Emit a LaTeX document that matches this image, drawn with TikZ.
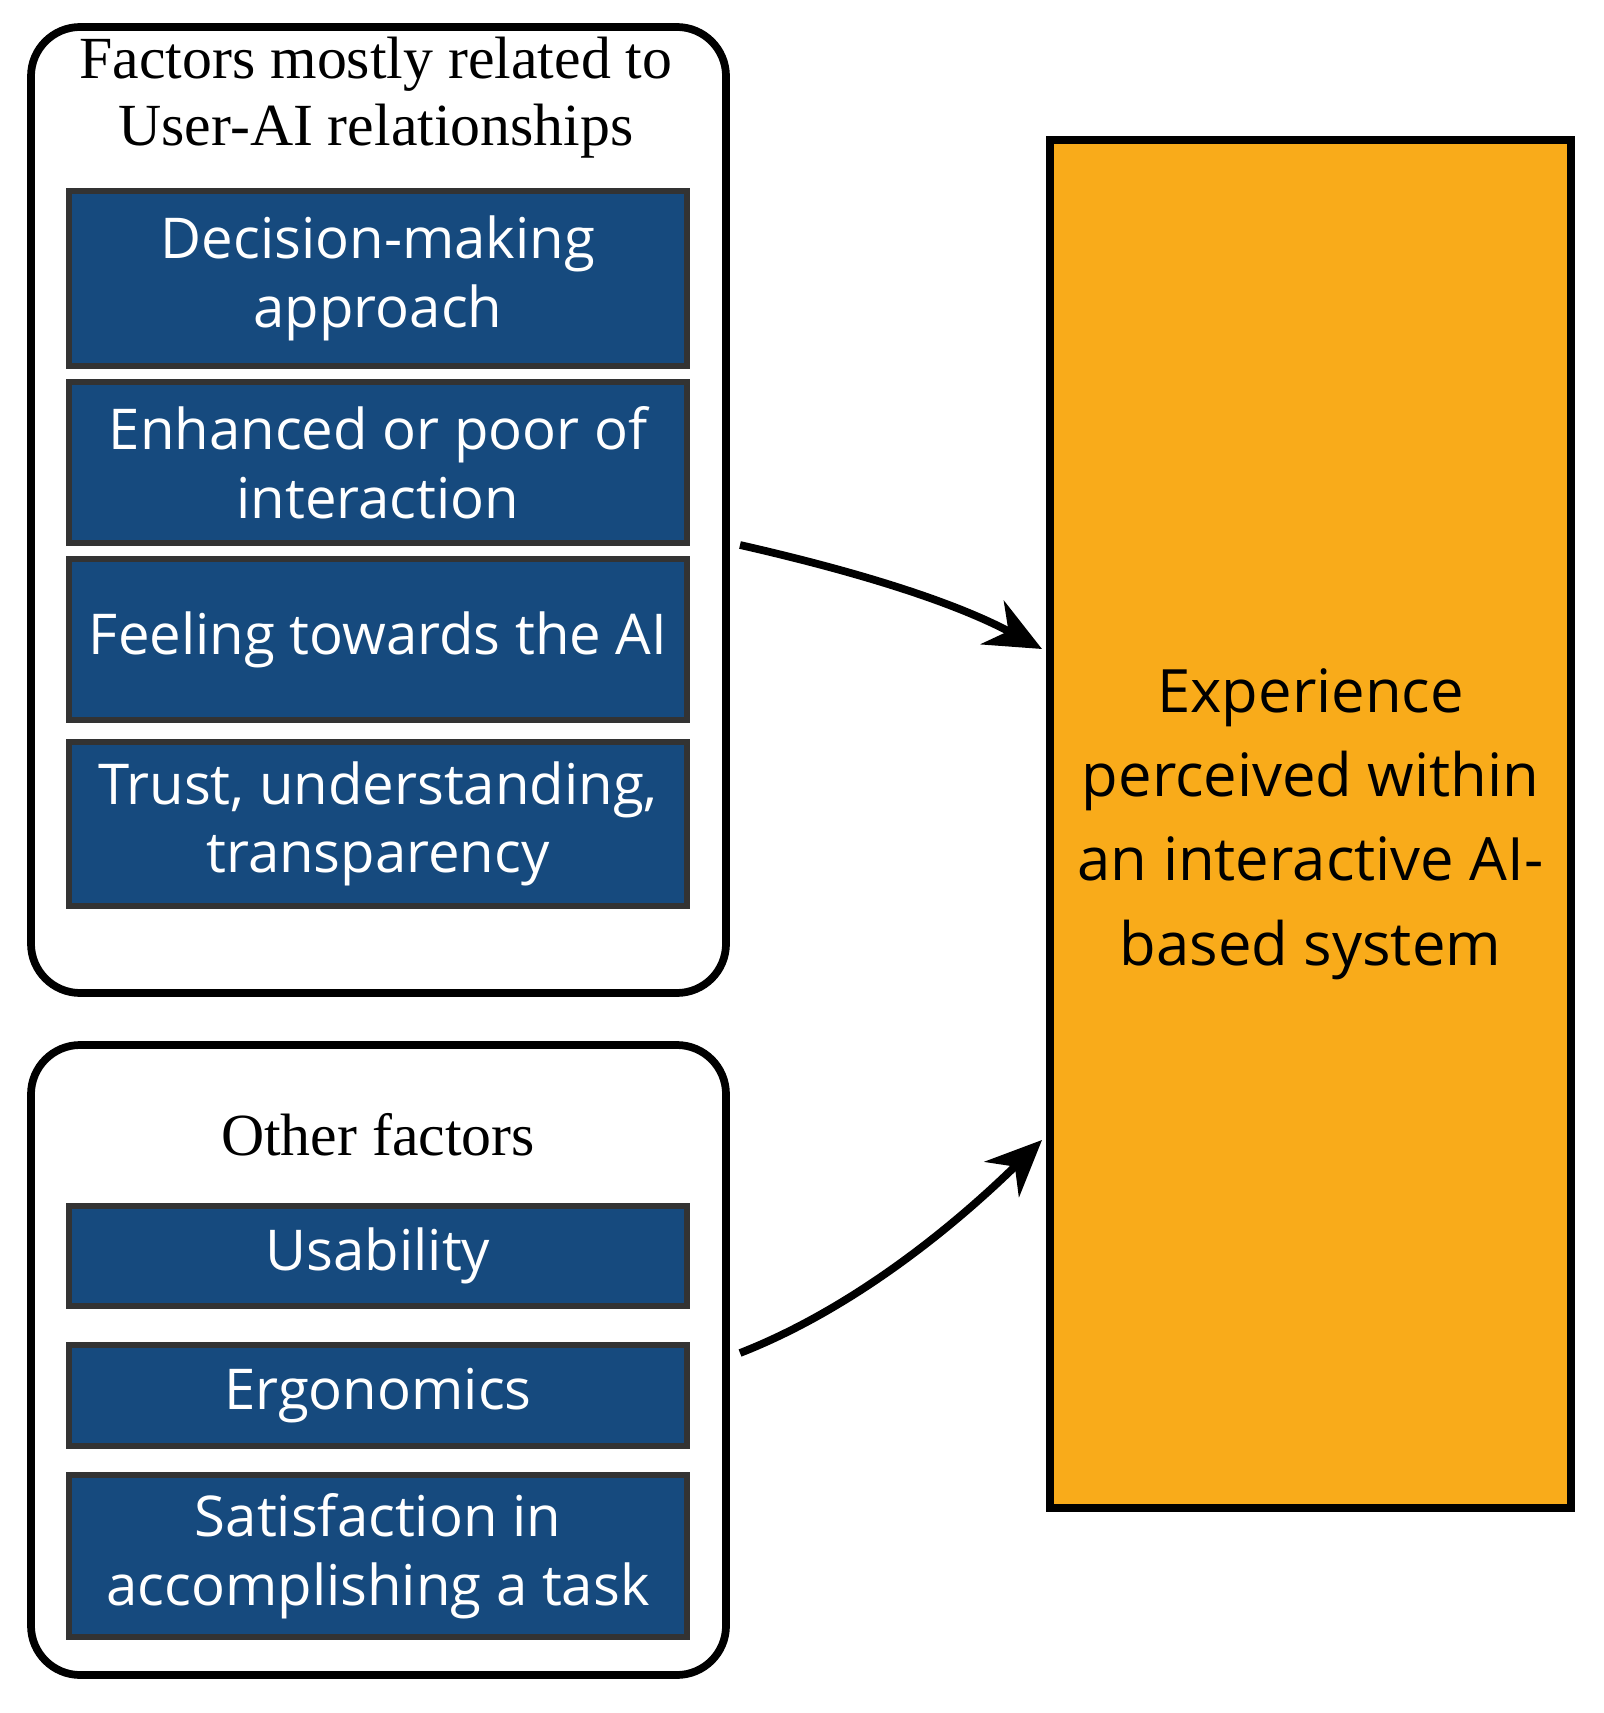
\documentclass[tikz,border=0pt]{standalone}
\usepackage{fontspec}
\setmainfont{Liberation Serif}
\newfontfamily\boxsf{Open Sans}
\definecolor{bl}{HTML}{164A7E}
\definecolor{og}{HTML}{F9AB1A}
\usetikzlibrary{arrows.meta}
\begin{document}
\begin{tikzpicture}[x=0.01cm,y=-0.01cm,
 grp/.style={draw=black,line width=2.2pt,rounded corners=14pt},
 blue/.style={fill=bl,draw=black!80,line width=1.8pt,text=white,font=\boxsf\fontsize{16}{19.5}\selectfont,align=center},
 ttl/.style={font=\fontsize{17}{19}\selectfont,align=center},
 arr/.style={line width=2.2pt,-{Stealth[length=16pt,width=14pt]}}]
\useasboundingbox (0,0) rectangle (1604,1713);
\draw[grp] (31,27) rectangle (726,993);
\node[ttl] (t1) at (376,98) {Factors mostly related to\\User-AI relationships};
\path[blue] (69,191) rectangle (687,366) node[midway] (b1) {Decision-making\\approach};
\path[blue] (69,382) rectangle (687,543) node[midway] (b2) {Enhanced or poor of\\interaction};
\path[blue] (69,559) rectangle (687,720) node[midway] (b3) {Feeling towards the AI};
\path[blue] (69,742) rectangle (687,906) node[midway] (b4) {Trust, understanding,\\transparency};
\draw[grp] (31,1045) rectangle (726,1675);
\node[ttl] (t2) at (378,1135) {Other factors};
\path[blue] (69,1206) rectangle (687,1306) node[midway] (u) {Usability};
\path[blue] (69,1345) rectangle (687,1446) node[midway] (e) {Ergonomics};
\path[blue] (69,1475) rectangle (687,1637) node[midway] (s) {Satisfaction in\\accomplishing a task};
\path[fill=og,draw=black,line width=2.5pt] (1050,140) rectangle (1571,1508) node[midway,text=black,font=\boxsf\fontsize{17}{24}\selectfont,align=center] (x) {Experience\\perceived within\\an interactive AI-\\based system};
\coordinate (a1) at (740,545);
\coordinate (a1e) at (1042,649);
\coordinate (a2) at (740,1353);
\coordinate (a2e) at (1042,1140);
\draw[arr] (a1) .. controls (850,570) and (950,600) .. (a1e);
\draw[arr] (a2) .. controls (850,1310) and (950,1230) .. (a2e);
\end{tikzpicture}
\end{document}
